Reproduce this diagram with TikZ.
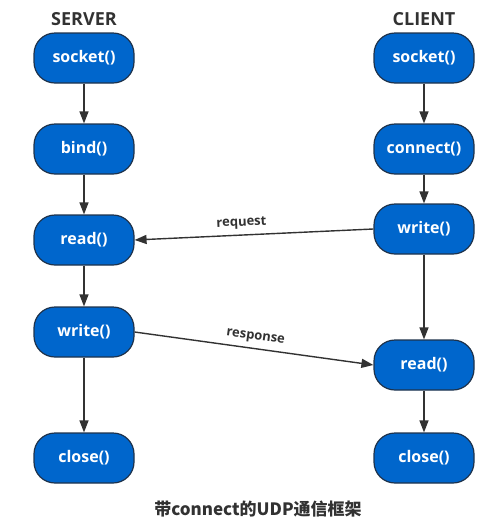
\documentclass[tikz,border=0pt]{standalone}
\usepackage{fontspec}
\setmainfont{Open Sans}
\newfontfamily\cjk{Noto Sans CJK SC}
\usetikzlibrary{arrows.meta}
\definecolor{boxblue}{RGB}{0,102,204}
\definecolor{boxline}{RGB}{30,50,75}
\definecolor{ink}{RGB}{50,50,50}
\tikzset{
	call/.style={draw=boxline, fill=boxblue, line width=1.2pt, rounded corners=21pt,
		minimum width=100pt, minimum height=50pt, text=white, font=\bfseries\fontsize{16}{16}\selectfont},
	side/.style={text=ink, font=\bfseries\fontsize{18}{18}\selectfont},
	flow/.style={draw=ink, line width=1.4pt, -{Triangle[length=12pt, width=9pt]}},
	msg/.style={text=ink, font=\fontsize{13}{13}\selectfont\bfseries}
}
\begin{document}
\begin{tikzpicture}[x=1pt, y=1pt]
		\useasboundingbox (0,0) rectangle (482,-523);
		\node[side] (server) at (84,-19) {SERVER};
		\node[side] (client) at (424,-19) {CLIENT};
		\node[call] (ssocket) at (84,-58) {socket()};
		\node[call] (sbind) at (84,-149) {bind()};
		\node[call] (sread) at (84,-240) {read()};
		\node[call] (swrite) at (84,-332) {write()};
		\node[call] (sclose) at (84,-458) {close()};
		\node[call] (csocket) at (424,-58) {socket()};
		\node[call] (cconnect) at (424,-149) {connect()};
		\node[call] (cwrite) at (424,-229) {write()};
		\node[call] (cread) at (424,-365) {read()};
		\node[call] (cclose) at (424,-458) {close()};
		\draw[flow] (ssocket) -- (sbind);
		\draw[flow] (sbind) -- (sread);
		\draw[flow] (sread) -- (swrite);
		\draw[flow] (swrite) -- (sclose);
		\draw[flow] (csocket) -- (cconnect);
		\draw[flow] (cconnect) -- (cwrite);
		\draw[flow] (cwrite) -- (cread);
		\draw[flow] (cread) -- (cclose);
		\draw[flow] (cwrite.west) -- node[msg, above=2pt, sloped, pos=0.55] {request} (sread.east);
		\draw[flow] (swrite.east) -- node[msg, above=2pt, sloped, pos=0.5] {response} (cread.west);
		\node[text=ink, font=\cjk\bfseries\fontsize{17}{17}\selectfont] (title) at (258,-509) {带connect的UDP通信框架};
	\end{tikzpicture}
\end{document}
